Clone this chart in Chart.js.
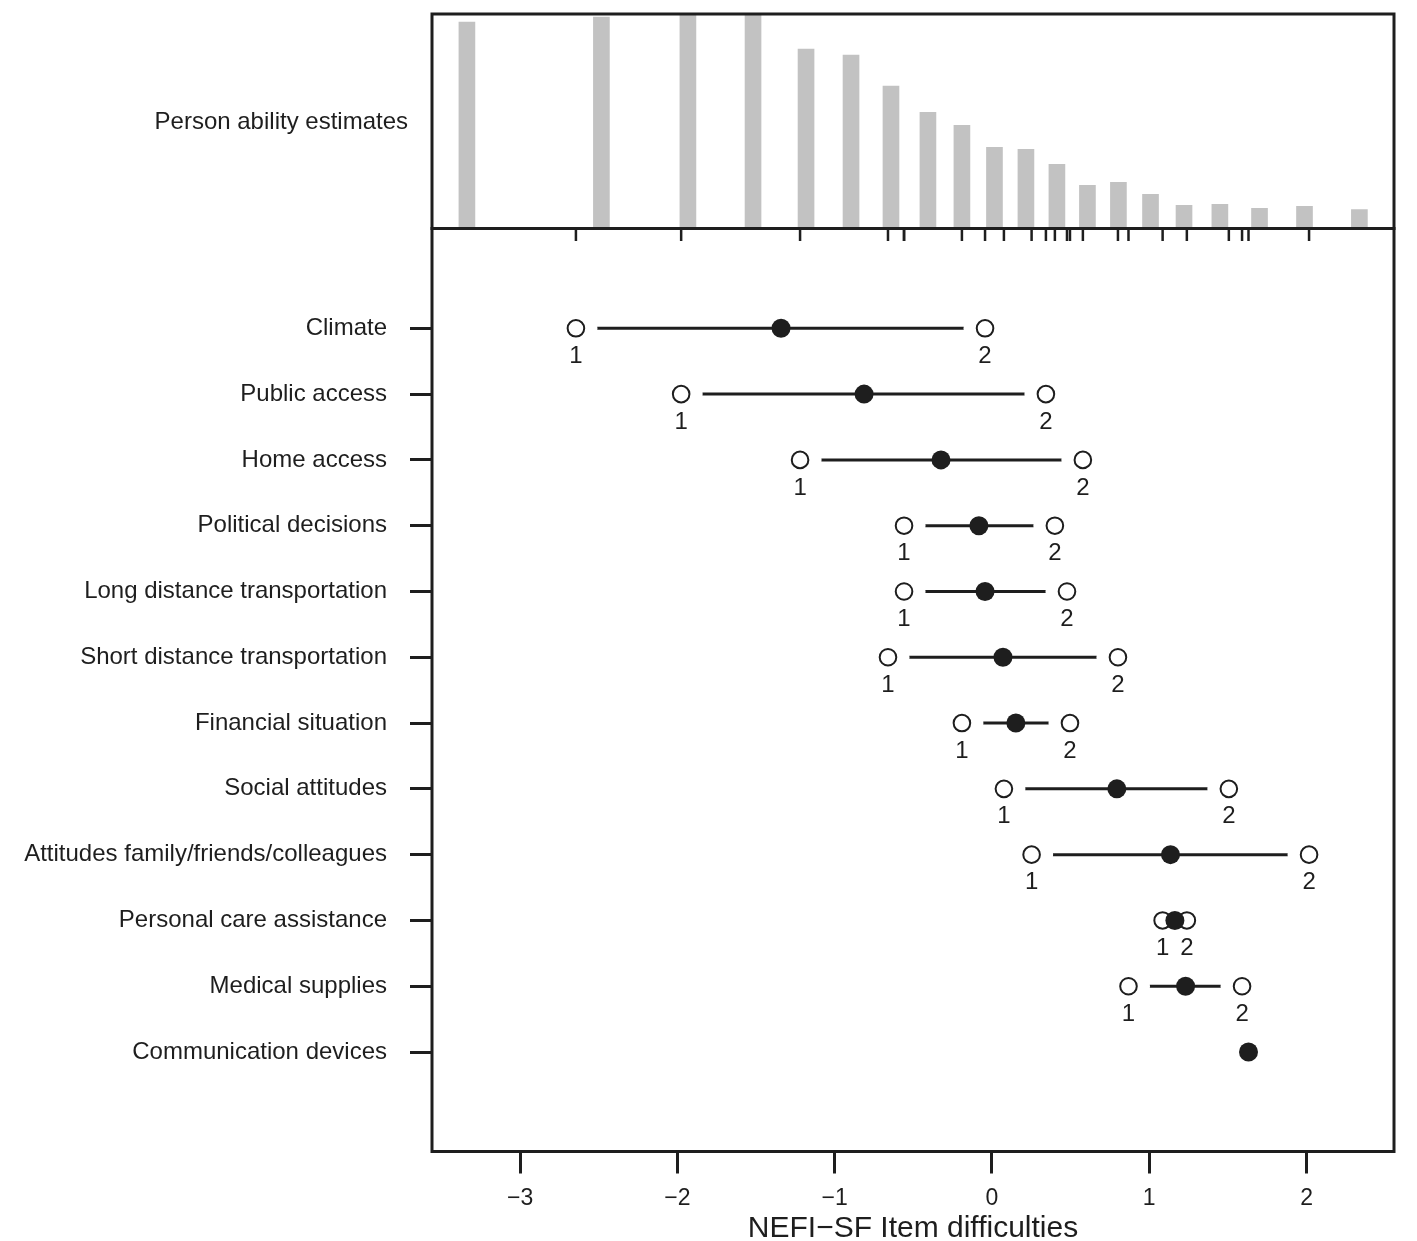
<!DOCTYPE html>
<html>
<head>
<meta charset="utf-8">
<title>Person-item map</title>
<script src="https://cdn.jsdelivr.net/npm/chart.js@4/dist/chart.umd.min.js"></script>
<style>
  html, body { margin: 0; padding: 0; background: #fff; }
  #wrap { position: relative; width: 1417px; height: 1241px; overflow: hidden; }
  canvas { position: absolute; left: 0; }
  #top { top: 0; }
  #bottom { top: 200px; }
</style>
</head>
<body>
<div id="wrap">
  <canvas id="bottom" width="1417" height="1041"></canvas>
  <canvas id="top" width="1417" height="240"></canvas>
</div>
<script>
// items, top to bottom
const items = ['Climate', 'Public access', 'Home access', 'Political decisions',
  'Long distance transportation', 'Short distance transportation', 'Financial situation',
  'Social attitudes', 'Attitudes family/friends/colleagues', 'Personal care assistance',
  'Medical supplies', 'Communication devices']
const itemLocation = [-1.341, -0.813, -0.324, -0.083, -0.044, 0.070, 0.152, 0.794, 1.135, 1.163, 1.231, 1.631]
const threshold1 = [-2.645, -1.976, -1.220, -0.559, -0.559, -0.661, -0.191, 0.076, 0.252, 1.085, 0.868, null]
const threshold2 = [-0.044, 0.343, 0.578, 0.400, 0.477, 0.801, 0.496, 1.506, 2.016, 1.239, 1.590, null]

// person ability distribution (top panel)
const abilityX = [-3.338, -2.483, -1.933, -1.519, -1.182, -0.896, -0.642, -0.407, -0.191, 0.016,
  0.216, 0.413, 0.607, 0.804, 1.008, 1.221, 1.449, 1.701, 1.987, 2.336]
const abilityN = [20.6, 21.1, 23, 23, 17.9, 17.3, 14.2, 11.6, 10.3, 8.1,
  7.9, 6.4, 4.3, 4.6, 3.4, 2.3, 2.4, 2.0, 2.2, 1.9]

const xTicks = [-3, -2, -1, 0, 1, 2]

const INK = '#1e1e1e'
const FONT = "'Liberation Sans', Arial, Helvetica, sans-serif"
const X_MIN = -3.560, X_MAX = 2.556
const Y_MIN = -1.517, Y_MAX = 12.512
const RUG_Y = Y_MIN + 0.096

const fmt = v => (v < 0 ? '\u2212' + Math.abs(v) : String(v))

const noPad = s => { // stop the scale from pushing the plot area in
  s.paddingTop = 0; s.paddingBottom = 0; s.paddingLeft = 0; s.paddingRight = 0
}

const frame = { // box round the plot area
  id: 'frame',
  afterDraw(chart, args, opts) {
    const {ctx, chartArea: a} = chart
    ctx.save()
    ctx.strokeStyle = INK
    ctx.lineWidth = 3
    ctx.strokeRect(a.left, a.top, a.right - a.left, a.bottom - a.top)
    if (opts.label) {
      ctx.fillStyle = INK
      ctx.font = '24px ' + FONT
      ctx.textAlign = 'right'
      ctx.textBaseline = 'middle'
      ctx.fillText(opts.label, 408, 122)
    }
    ctx.restore()
  }
}

const thresholdLabels = { // "1" / "2" under each threshold
  id: 'thresholdLabels',
  afterDatasetsDraw(chart) {
    const {ctx, scales: {x, y}} = chart
    ctx.save()
    ctx.fillStyle = INK
    ctx.font = '24px ' + FONT
    ctx.textAlign = 'center'
    ctx.textBaseline = 'middle'
    items.forEach((name, i) => {
      const py = y.getPixelForValue(i) + 28
      if (threshold1[i] !== null) ctx.fillText('1', x.getPixelForValue(threshold1[i]), py)
      if (threshold2[i] !== null) ctx.fillText('2', x.getPixelForValue(threshold2[i]), py)
    })
    ctx.restore()
  }
}

// top panel: person ability estimates
new Chart(document.getElementById('top'), {
  type: 'bar',
  data: {
    datasets: [{
      data: abilityX.map((v, i) => ({x: v, y: abilityN[i]})),
      backgroundColor: '#c2c2c2',
      barThickness: 16,
      grouped: false,
      clip: 0
    }]
  },
  options: {
    responsive: false,
    animation: false,
    events: [],
    layout: {padding: {left: 432, right: 23, top: 14, bottom: 11.5}},
    scales: {
      x: {type: 'linear', min: X_MIN, max: X_MAX, offset: false, grid: {offset: false}, display: false},
      y: {min: 0, max: 21.4, display: false}
    },
    plugins: {
      legend: {display: false},
      tooltip: {enabled: false},
      frame: {label: 'Person ability estimates'}
    }
  },
  plugins: [frame]
})

// bottom panel: item map
const pts = []
items.forEach((n, i) => {
  if (threshold1[i] !== null) pts.push({x: threshold1[i], y: i})
  if (threshold2[i] !== null) pts.push({x: threshold2[i], y: i})
})
const rug = []
items.forEach((n, i) => {
  if (threshold1[i] === null && threshold2[i] === null) rug.push({x: itemLocation[i], y: RUG_Y})
  else pts.filter(p => p.y === i).forEach(p => rug.push({x: p.x, y: RUG_Y}))
})

const lineSets = items.map((n, i) => ({
  data: threshold1[i] === null ? [] : [{x: threshold1[i], y: i}, {x: threshold2[i], y: i}],
  showLine: true,
  borderColor: INK,
  borderWidth: 3,
  pointRadius: 0,
  order: 4
}))

new Chart(document.getElementById('bottom'), {
  type: 'scatter',
  data: {
    datasets: [
      ...lineSets,
      { // white gap round the thresholds
        data: pts, pointRadius: 21.5, pointBackgroundColor: '#fff', pointBorderWidth: 0, order: 3
      },
      {
        data: pts, pointRadius: 8.3, pointBackgroundColor: 'rgba(0,0,0,0)',
        pointBorderColor: INK, pointBorderWidth: 2, order: 2
      },
      {
        data: itemLocation.map((v, i) => ({x: v, y: i})),
        pointRadius: 9.5, pointBackgroundColor: INK, pointBorderWidth: 0, order: 1
      },
      {
        data: rug, pointStyle: 'line', rotation: 90, pointRadius: 6.3,
        pointBorderColor: INK, pointBorderWidth: 2.5, order: 0
      }
    ]
  },
  options: {
    responsive: false,
    animation: false,
    events: [],
    layout: {padding: {left: 0, right: 23, top: 28.5, bottom: 0}},
    scales: {
      x: {
        type: 'linear', position: 'bottom', min: X_MIN, max: X_MAX,
        afterBuildTicks: s => { s.ticks = xTicks.map(v => ({value: v})) },
        afterFit: s => { s.height = 89.5; noPad(s) },
        grid: {drawOnChartArea: false, tickLength: 22, tickWidth: 3, tickColor: INK},
        border: {display: false},
        ticks: {color: INK, font: {family: FONT, size: 23}, padding: 11, maxRotation: 0, callback: v => fmt(v)},
        title: {
          display: true, text: 'NEFI\u2212SF Item difficulties', color: INK,
          font: {family: FONT, size: 30, lineHeight: 0.85}, padding: 0
        }
      },
      y: {
        type: 'linear', reverse: true, min: Y_MIN, max: Y_MAX,
        afterBuildTicks: s => { s.ticks = items.map((n, i) => ({value: i})) },
        afterFit: s => { s.width = 432; noPad(s) },
        grid: {drawOnChartArea: false, tickLength: 22, tickWidth: 3, tickColor: INK},
        border: {display: false},
        ticks: {color: INK, font: {family: FONT, size: 24}, padding: 23, callback: v => items[v]}
      }
    },
    plugins: {
      legend: {display: false},
      tooltip: {enabled: false}
    }
  },
  plugins: [frame, thresholdLabels]
})
</script>
</body>
</html>
